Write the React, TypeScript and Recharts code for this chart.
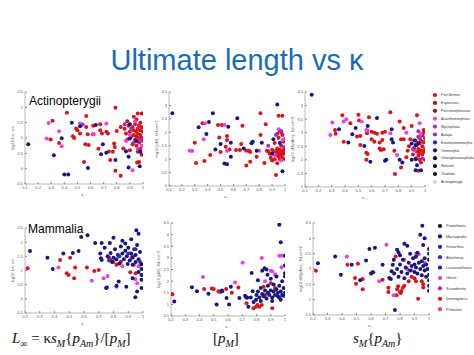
import { ScatterChart, Scatter, XAxis, YAxis, Label } from 'recharts';

// Actinopterygii: log10 L_inf (cm) vs kappa
const fishLenRed = [
  [0.296, 0.95], [0.31, 1.56], [0.36, 0.84], [0.42, 1.82], [0.465, 1.06], [0.475, 1.0], [0.49, 1.31], [0.5, 1.25],
  [0.52, 1.15], [0.567, 1.72], [0.567, 1.36], [0.578, 1.12], [0.618, 1.12], [0.56, 0.8], [0.585, 0.77], [0.55, 0.22],
  [0.62, 1.4], [0.674, 1.45], [0.674, 1.25], [0.72, 1.2], [0.687, 1.15], [0.733, 1.15], [0.66, 0.65], [0.74, 0.56],
  [0.75, 0.28], [0.79, 1.99], [0.785, 0.71], [0.78, 0.82], [0.77, 0.55], [0.79, -0.07], [0.83, -0.23], [0.8, 1.23],
  [0.83, 1.36], [0.93, 1.69], [0.96, 1.8], [0.99, 1.8], [0.955, 0.2], [0.97, 0.22], [0.85, 0.66], [0.86, 1.3],
  [0.87, 1.15], [0.88, 0.95], [0.89, 1.4], [0.9, 1.2], [0.91, 1.05], [0.92, 1.35], [0.92, 0.8], [0.93, 1.25],
  [0.93, 1.1], [0.94, 0.95], [0.94, 1.45], [0.95, 1.2], [0.95, 1.05], [0.95, 0.75], [0.96, 1.3], [0.96, 1.15],
  [0.96, 0.55], [0.97, 1.4], [0.97, 1.0], [0.97, 0.85], [0.98, 1.25], [0.98, 1.1], [0.98, 0.65], [0.99, 1.35],
  [0.99, 1.0], [0.99, 0.45], [1.0, 1.2], [1.0, 0.9], [0.9, 0.6], [0.88, 1.55], [0.95, 1.6], [0.98, 1.5],
];
const fishLenMagenta = [
  [0.266, 0.98], [0.28, 1.49], [0.36, 1.22], [0.38, 0.73], [0.52, 1.47], [0.625, 1.12], [0.72, 1.47], [0.92, -0.05],
  [0.9, 1.1], [0.96, 0.65], [0.94, 1.55], [0.99, 0.75], [0.87, 0.9],
];
const fishLenPurple = [[0.54, 1.44], [0.86, 1.45], [0.93, 0.85], [0.97, 0.6], [0.98, 0.95], [0.91, 1.3]];
const fishLenNavy = [
  [0.125, 0.8], [0.32, 0.44], [0.38, 0.99], [0.4, -0.19], [0.43, -0.19], [0.457, 1.5], [0.52, 1.38], [0.58, 0.02],
  [0.64, 1.42], [0.694, 0.8], [0.68, 0.47], [0.72, 0.52], [0.79, 0.28], [0.87, 0.57], [0.89, 0.04], [0.89, 0.39],
  [0.975, 0.08], [0.9, 0.98], [0.9, 1.45], [0.95, 0.9], [0.98, 0.55],
];

// Actinopterygii: log10 [p_M] vs kappa
const fishPmRed = [
  [0.3, 1.61], [0.31, 0.86], [0.36, 2.34], [0.375, 0.93], [0.42, 1.15], [0.48, 2.27], [0.51, 2.27], [0.49, 1.81],
  [0.5, 1.27], [0.54, 1.46], [0.55, 1.86], [0.55, 1.71], [0.57, 1.36], [0.62, 1.34], [0.65, 1.34], [0.66, 1.56],
  [0.67, 2.24], [0.7, 1.31], [0.72, 1.31], [0.73, 1.27], [0.7, 0.76], [0.73, 0.9], [0.78, 1.09], [0.81, 2.71],
  [0.81, 1.9], [0.85, 2.3], [0.84, 0.86], [0.86, 1.31], [0.87, 1.28], [0.95, 2.62], [0.98, 2.62], [0.93, 0.41],
  [0.88, 1.2], [0.89, 1.05], [0.9, 0.95], [0.9, 1.35], [0.91, 1.25], [0.92, 1.0], [0.92, 1.6], [0.93, 1.3],
  [0.93, 1.15], [0.94, 0.85], [0.94, 1.4], [0.95, 1.25], [0.95, 1.1], [0.95, 1.8], [0.96, 1.35], [0.96, 1.2],
  [0.96, 1.0], [0.96, 2.05], [0.97, 1.3], [0.97, 1.15], [0.97, 1.5], [0.98, 1.25], [0.98, 1.05], [0.98, 1.9],
  [0.99, 1.35], [0.99, 1.2], [0.99, 1.65], [1.0, 1.3], [1.0, 1.0], [0.97, 2.0], [0.94, 1.95],
];
const fishPmMagenta = [
  [0.26, 1.31], [0.28, 1.3], [0.38, 2.34], [0.37, 1.74], [0.53, 2.27], [0.55, 1.31], [0.8, 1.31], [0.98, 1.71],
  [1.0, 1.76], [0.95, 2.11], [0.92, 1.15], [0.97, 0.95],
];
const fishPmPurple = [[0.87, 1.5], [0.93, 1.9], [0.97, 2.05], [0.99, 1.45]];
const fishPmNavy = [
  [0.126, 2.71], [0.33, 2.19], [0.39, 1.94], [0.41, 2.38], [0.44, 2.71], [0.46, 1.36], [0.5, 1.56], [0.53, 0.84],
  [0.55, 0.81], [0.56, 2.21], [0.58, 1.09], [0.58, 1.61], [0.63, 2.52], [0.68, 1.4], [0.74, 1.59], [0.75, 1.65],
  [0.78, 1.31], [0.82, 1.61], [0.94, 3.03], [0.98, 0.55], [0.91, 1.74], [0.9, 1.2], [0.96, 1.6],
];

// Actinopterygii: log10 s_M{p_Am} vs kappa
const fishSpRed = [
  [0.325, 3.1], [0.33, 2.96], [0.38, 3.64], [0.39, 2.67], [0.44, 3.35], [0.5, 3.66], [0.505, 3.45], [0.49, 2.86],
  [0.515, 2.88], [0.515, 2.55], [0.565, 2.98], [0.56, 2.26], [0.57, 2.22], [0.56, 2.0], [0.58, 3.57], [0.6, 3.04],
  [0.62, 3.0], [0.64, 2.96], [0.6, 2.76], [0.62, 2.67], [0.66, 2.42], [0.67, 2.36], [0.69, 2.39], [0.68, 3.0],
  [0.7, 3.04], [0.66, 2.64], [0.68, 2.73], [0.74, 3.75], [0.77, 2.34], [0.775, 1.48], [0.81, 3.41], [0.82, 2.76],
  [0.84, 2.76], [0.82, 1.72], [0.84, 3.17], [0.87, 2.34], [0.89, 2.76], [0.9, 3.25], [0.94, 3.64], [0.95, 1.6],
  [0.99, 3.1], [0.99, 3.0], [0.88, 2.5], [0.91, 2.2], [0.92, 2.45], [0.93, 2.05], [0.93, 2.7], [0.94, 2.3],
  [0.94, 2.55], [0.95, 2.15], [0.95, 2.4], [0.95, 2.85], [0.96, 2.0], [0.96, 2.25], [0.96, 2.6], [0.97, 2.35],
  [0.97, 2.7], [0.97, 1.9], [0.98, 2.2], [0.98, 2.5], [0.98, 2.9], [0.99, 2.3], [0.99, 2.65], [1.0, 2.4],
  [1.0, 2.0], [1.0, 2.8], [0.86, 2.1],
];
const fishSpMagenta = [
  [0.29, 2.92], [0.305, 3.38], [0.39, 3.41], [0.41, 3.5], [0.525, 3.41], [0.56, 3.1], [0.57, 3.08], [0.74, 2.98],
  [0.79, 2.18], [0.86, 3.0], [0.96, 3.35], [0.92, 2.35], [0.97, 2.95],
];
const fishSpPurple = [[0.91, 2.4], [0.95, 3.05], [0.98, 2.05], [0.96, 2.8]];
const fishSpNavy = [
  [0.15, 4.4], [0.355, 3.13], [0.425, 2.64], [0.455, 2.94], [0.48, 3.17], [0.545, 2.51], [0.57, 3.25], [0.59, 1.93],
  [0.64, 3.54], [0.75, 3.13], [0.75, 2.76], [0.76, 2.64], [0.7, 1.97], [0.71, 2.0], [0.81, 2.0], [0.83, 1.9],
  [0.9, 2.0], [0.93, 2.02], [0.93, 1.62], [0.94, 1.8], [0.97, 1.62], [0.9, 2.6], [0.92, 2.72], [0.93, 2.55],
  [0.95, 2.62],
];

// Mammalia: log10 L_inf vs kappa
const mamLenNavy = [
  [0.234, 1.69], [0.352, 1.45], [0.388, 1.05], [0.46, 1.6], [0.524, 1.62], [0.563, 1.69], [0.581, 2.18], [0.624, 2.24],
  [0.676, 1.97], [0.71, 1.6], [0.72, 1.97], [0.715, 1.43], [0.72, 1.37], [0.75, 0.38], [0.755, 0.4], [0.775, 1.97],
  [0.8, 2.16], [0.82, 0.46], [0.835, 0.61], [0.887, 0.43], [0.896, 1.23], [0.93, 0.73], [0.948, 0.06], [0.96, 0.26],
  [0.955, 2.42], [0.97, 2.3], [0.99, 1.05], [0.99, 0.84], [0.99, 0.67], [0.99, 0.38], [0.76, 1.5], [0.78, 1.62],
  [0.79, 1.3], [0.8, 1.45], [0.81, 1.75], [0.82, 1.4], [0.83, 1.55], [0.84, 1.25], [0.85, 1.85], [0.86, 1.6],
  [0.87, 1.4], [0.88, 1.7], [0.88, 1.95], [0.89, 1.5], [0.9, 1.8], [0.91, 1.35], [0.92, 1.6], [0.92, 2.1],
  [0.93, 1.45], [0.94, 1.75], [0.95, 1.3], [0.95, 1.55], [0.96, 1.9], [0.97, 1.4], [0.98, 1.65], [0.93, 1.2],
  [0.86, 2.05], [0.74, 1.8], [0.97, 0.95],
];
const mamLenBlue = [[0.77, 1.35], [0.84, 1.5], [0.9, 1.6], [0.95, 1.75], [0.98, 1.3]];
const mamLenRed = [
  [0.218, 1.08], [0.438, 1.37], [0.483, 0.9], [0.495, 0.84], [0.506, 1.45], [0.533, 0.73], [0.54, 1.11], [0.62, 1.11],
  [0.67, 0.98], [0.7, 1.02], [0.77, 1.46], [0.78, 1.37], [0.85, 1.31], [0.914, 0.94], [0.8, 1.3], [0.82, 1.2],
  [0.93, 1.5], [0.95, 0.9],
];
const mamLenMagenta = [
  [0.427, 1.11], [0.653, 0.64], [0.733, 0.73], [0.76, 0.81], [0.82, 0.43], [0.948, 0.69], [0.92, 1.45], [0.94, 1.2],
  [0.97, 1.15], [0.96, 0.55], [0.86, 1.15],
];
const mamLenBlack = [[0.99, 1.22]];

// Mammalia: log10 [p_M] vs kappa
const mamPmNavy = [
  [0.223, 1.12], [0.347, 1.74], [0.382, 1.56], [0.463, 1.46], [0.52, 1.0], [0.557, 1.6], [0.56, 1.56], [0.59, 1.27],
  [0.608, 1.0], [0.62, 1.76], [0.68, 1.27], [0.72, 1.37], [0.727, 1.31], [0.735, 1.28], [0.743, 0.9], [0.766, 2.35],
  [0.773, 1.56], [0.797, 1.2], [0.81, 2.04], [0.84, 2.45], [0.857, 2.55], [0.87, 2.5], [0.877, 2.27], [0.96, 4.43],
  [0.97, 3.67], [1.0, 3.09], [1.0, 2.67], [0.99, 1.37], [0.8, 1.4], [0.81, 1.55], [0.82, 1.3], [0.83, 1.7],
  [0.84, 1.45], [0.85, 1.35], [0.86, 1.6], [0.87, 1.25], [0.88, 1.5], [0.88, 1.8], [0.89, 1.4], [0.9, 1.6],
  [0.9, 2.1], [0.91, 1.3], [0.92, 1.55], [0.92, 1.85], [0.93, 1.4], [0.94, 1.65], [0.94, 2.2], [0.95, 1.35],
  [0.95, 1.5], [0.96, 1.8], [0.96, 1.3], [0.97, 1.55], [0.98, 1.4], [0.98, 2.0], [0.99, 1.7], [1.0, 1.5],
  [1.0, 2.2], [0.78, 1.1], [0.76, 1.3], [0.83, 1.15], [0.91, 1.15], [0.97, 1.2],
];
const mamPmRed = [
  [0.21, 1.44], [0.433, 1.66], [0.487, 1.68], [0.5, 1.66], [0.533, 1.56], [0.545, 1.53], [0.587, 1.66], [0.627, 1.5],
  [0.673, 1.73], [0.73, 1.05], [0.778, 0.83], [0.797, 0.9], [0.806, 0.97], [0.82, 0.9], [0.837, 0.97], [0.85, 1.76],
  [0.9, 1.91], [0.91, 0.83], [0.86, 1.4], [0.93, 1.7],
];
const mamPmMagenta = [
  [0.424, 2.18], [0.65, 1.94], [0.703, 2.79], [0.837, 3.0], [0.86, 2.0], [0.9, 2.45], [0.91, 2.42], [0.96, 3.09],
  [0.98, 3.09], [0.976, 2.6], [0.93, 2.3],
];
const mamPmBlack = [[1.0, 2.34]];

// Mammalia: log10 s_M{p_Am} vs kappa
const mamSpNavy = [
  [0.234, 3.19], [0.353, 3.41], [0.392, 2.81], [0.467, 3.14], [0.525, 2.63], [0.566, 3.28], [0.589, 3.65], [0.6, 2.85],
  [0.61, 2.89], [0.627, 3.69], [0.68, 3.14], [0.726, 2.71], [0.737, 2.67], [0.742, 2.93], [0.75, 3.14], [0.757, 3.3],
  [0.765, 1.66], [0.78, 3.63], [0.79, 3.54], [0.83, 3.82], [0.85, 3.76], [0.91, 3.4], [0.92, 3.53], [0.954, 4.41],
  [0.94, 4.12], [0.97, 4.0], [0.96, 3.78], [1.0, 3.65], [1.0, 3.5], [1.0, 2.81], [1.0, 2.63], [1.0, 2.45],
  [1.0, 2.29], [0.76, 2.85], [0.78, 3.0], [0.79, 2.75], [0.8, 3.15], [0.81, 2.9], [0.82, 3.3], [0.83, 2.7],
  [0.84, 3.05], [0.85, 2.85], [0.86, 3.2], [0.87, 2.95], [0.88, 3.1], [0.89, 3.35], [0.9, 2.9], [0.9, 3.15],
  [0.91, 3.05], [0.92, 2.85], [0.93, 3.2], [0.94, 3.0], [0.95, 3.25], [0.95, 2.8], [0.96, 3.1], [0.97, 2.95],
  [0.97, 3.35], [0.98, 3.15], [0.99, 3.0], [0.8, 3.45], [0.87, 3.5], [0.98, 2.75],
];
const mamSpRed = [
  [0.22, 2.94], [0.438, 3.14], [0.49, 2.71], [0.497, 2.52], [0.51, 3.17], [0.543, 2.67], [0.543, 2.34], [0.616, 2.89],
  [0.68, 2.65], [0.72, 2.39], [0.72, 2.25], [0.776, 2.14], [0.787, 2.44], [0.78, 2.34], [0.8, 2.25], [0.805, 2.22],
  [0.81, 2.28], [0.82, 2.39], [0.83, 2.45], [0.77, 3.41], [0.925, 2.03], [0.91, 2.6], [0.9, 2.7], [0.95, 2.6],
  [0.96, 2.5], [0.96, 2.4], [0.86, 2.6], [0.88, 2.75],
];
const mamSpMagenta = [
  [0.433, 3.41], [0.657, 2.6], [0.707, 3.79], [0.757, 2.14], [0.83, 3.3], [0.85, 2.99], [0.91, 3.49], [0.93, 3.48],
  [0.88, 2.95], [0.97, 3.2],
];
const mamSpBlack = [[1.0, 3.3]];

const fishKappaTicks = [0.1, 0.2, 0.3, 0.4, 0.5, 0.6, 0.7, 0.8, 0.9, 1];
const mamKappaTicks = [0.2, 0.3, 0.4, 0.5, 0.6, 0.7, 0.8, 0.9, 1];

const fishLegendNames = [
  'Perciformes', 'Eupercaria', 'Percomorphaceae', 'Acanthomorphata', 'Myctophata', 'Aulopa',
  'Euteleosteomorpha', 'Otomorpha', 'Osteoglossocephalai', 'Holostei', 'Cladistia', 'Actinopterygii',
];
const fishLegendColors = [
  '#e3121b', '#c81018', '#a00d12', '#ee44ee', '#b626c8', '#8c2fd0',
  '#1b23d6', '#14147e', '#10103a', '#111111', '#111111', '#d9d9d9',
];
const mamLegendNames = [
  'Prototheria', 'Marsupialia', 'Xenarthra', 'Afrotheria', 'Laurasiatheria',
  'Glires', 'Scandentia', 'Dermoptera', 'Primates',
];
const mamLegendColors = [
  '#111111', '#12126e', '#2424b8', '#3434c4', '#1e1e98',
  '#d040d8', '#d418c8', '#d81818', '#e05050',
];

const C = {
  red: '#d8141c',
  magenta: '#e640e6',
  purple: '#a52ad0',
  navy: '#17177f',
  blue: '#2e2ec4',
  black: '#111111',
};

type Series = { color: string; points: number[][] };

type PanelProps = {
  x0: number;
  y0: number;
  x1: number;
  y1: number;
  xDomain: [number, number];
  yDomain: [number, number];
  xTicks: number[];
  yTicks: number[];
  yLabel: string;
  series: Series[];
};

const PAD_L = 22;
const PAD_T = 4;
const PAD_R = 4;
const PAD_B = 14;
const FRAME = '#b8b8b8';
const tickStyle = { fontSize: 4, fill: '#555' };

function Panel({ x0, y0, x1, y1, xDomain, yDomain, xTicks, yTicks, yLabel, series }: PanelProps) {
  const width = x1 - x0 + PAD_L + PAD_R;
  const height = y1 - y0 + PAD_T + PAD_B;

  return (
    <div style={{ position: 'absolute', left: x0 - PAD_L, top: y0 - PAD_T }}>
      <ScatterChart width={width} height={height} margin={{ top: PAD_T, right: PAD_R, left: 0, bottom: 0 }}>
        <XAxis
          dataKey="x"
          type="number"
          domain={xDomain}
          ticks={xTicks}
          allowDataOverflow
          height={PAD_B}
          tickSize={-2}
          tickMargin={4}
          tick={tickStyle}
          axisLine={{ stroke: FRAME }}
          tickLine={{ stroke: '#888' }}
        >
          <Label value="κ, -" position="insideBottom" offset={2} style={{ fontSize: 4, fill: '#555' }} />
        </XAxis>
        <XAxis
          xAxisId="top"
          orientation="top"
          type="number"
          domain={xDomain}
          ticks={xTicks}
          allowDataOverflow
          height={0}
          tickSize={-2}
          tick={false}
          axisLine={{ stroke: '#dcdcdc' }}
          tickLine={{ stroke: '#999' }}
        />
        <YAxis
          dataKey="y"
          type="number"
          domain={yDomain}
          ticks={yTicks}
          allowDataOverflow
          width={PAD_L}
          tickSize={-2}
          tickMargin={4}
          tick={tickStyle}
          axisLine={{ stroke: FRAME }}
          tickLine={{ stroke: '#888' }}
        >
          <Label value={yLabel} angle={-90} position="center" dx={-1} style={{ fontSize: 4, fill: '#555' }} />
        </YAxis>
        <YAxis
          yAxisId="right"
          orientation="right"
          type="number"
          domain={yDomain}
          ticks={yTicks}
          allowDataOverflow
          width={0}
          tickSize={-2}
          tick={false}
          axisLine={{ stroke: '#dcdcdc' }}
          tickLine={{ stroke: '#999' }}
        />
        {series.map((s, i) => (
          <Scatter
            key={i}
            data={s.points.map(([x, y]) => ({ x, y }))}
            isAnimationActive={false}
            shape={(p: any) => <circle cx={p.cx} cy={p.cy} r={2} fill={s.color} />}
          />
        ))}
      </ScatterChart>
    </div>
  );
}

function LegendBox({ left, top, step, names, colors, fontSize }: {
  left: number; top: number; step: number; names: string[]; colors: string[]; fontSize: number;
}) {
  return (
    <svg style={{ position: 'absolute', left, top }} width={474 - left} height={step * names.length + 4}>
      {names.map((n, i) => (
        <g key={n}>
          <circle cx={3} cy={3 + i * step} r={2.1} fill={colors[i]} />
          <text x={9} y={3 + i * step + fontSize * 0.35} fontSize={fontSize} fill="#333" fontFamily="Liberation Sans, Arial, sans-serif">
            {n}
          </text>
        </g>
      ))}
    </svg>
  );
}

const mathStyle: React.CSSProperties = {
  position: 'absolute',
  top: 330,
  fontFamily: '"Liberation Serif", "DejaVu Serif", serif',
  fontSize: 15,
  whiteSpace: 'nowrap',
  color: '#111',
};

export default function App() {
  return (
    <div
      style={{
        position: 'absolute',
        left: 0,
        top: 0,
        width: 474,
        height: 355,
        background: '#fff',
        overflow: 'hidden',
        fontFamily: '"Liberation Sans", Arial, sans-serif',
      }}
    >
      <div style={{ position: 'absolute', left: 0, top: 44, width: 474, textAlign: 'center', fontSize: 29, color: '#1c6cb5' }}>
        Ultimate length vs κ
      </div>

      <Panel
        x0={25} y0={92} x1={143} y1={184}
        xDomain={[0.1, 1]} yDomain={[-0.5, 2.5]}
        xTicks={fishKappaTicks} yTicks={[-0.5, 0, 0.5, 1, 1.5, 2, 2.5]}
        yLabel="log10 L∞, cm"
        series={[
          { color: C.red, points: fishLenRed },
          { color: C.magenta, points: fishLenMagenta },
          { color: C.purple, points: fishLenPurple },
          { color: C.navy, points: fishLenNavy },
        ]}
      />
      <Panel
        x0={169} y0={92} x1={285} y1={186}
        xDomain={[0.1, 1]} yDomain={[0, 3.5]}
        xTicks={fishKappaTicks} yTicks={[0, 0.5, 1, 1.5, 2, 2.5, 3, 3.5]}
        yLabel="log10 [pM], J/d.cm^3"
        series={[
          { color: C.red, points: fishPmRed },
          { color: C.magenta, points: fishPmMagenta },
          { color: C.purple, points: fishPmPurple },
          { color: C.navy, points: fishPmNavy },
        ]}
      />
      <Panel
        x0={305} y0={92} x1={425} y1={187}
        xDomain={[0.1, 1]} yDomain={[1, 4.5]}
        xTicks={fishKappaTicks} yTicks={[1, 1.5, 2, 2.5, 3, 3.5, 4, 4.5]}
        yLabel="log10 sM{pAm}, J/d.cm^2"
        series={[
          { color: C.red, points: fishSpRed },
          { color: C.magenta, points: fishSpMagenta },
          { color: C.purple, points: fishSpPurple },
          { color: C.navy, points: fishSpNavy },
        ]}
      />

      <Panel
        x0={25} y0={228} x1={143} y1={313}
        xDomain={[0.2, 1]} yDomain={[-0.5, 2.5]}
        xTicks={mamKappaTicks} yTicks={[-0.5, 0, 0.5, 1, 1.5, 2, 2.5]}
        yLabel="log10 L∞, cm"
        series={[
          { color: C.red, points: mamLenRed },
          { color: C.magenta, points: mamLenMagenta },
          { color: C.navy, points: mamLenNavy },
          { color: C.blue, points: mamLenBlue },
          { color: C.black, points: mamLenBlack },
        ]}
      />
      <Panel
        x0={171} y0={223} x1={285} y1={316}
        xDomain={[0.2, 1]} yDomain={[0.5, 4.5]}
        xTicks={mamKappaTicks} yTicks={[0.5, 1, 1.5, 2, 2.5, 3, 3.5, 4, 4.5]}
        yLabel="log10 [pM], J/d.cm^3"
        series={[
          { color: C.red, points: mamPmRed },
          { color: C.magenta, points: mamPmMagenta },
          { color: C.navy, points: mamPmNavy },
          { color: C.black, points: mamPmBlack },
        ]}
      />
      <Panel
        x0={313} y0={223} x1={429} y1={315}
        xDomain={[0.2, 1]} yDomain={[1.5, 4.5]}
        xTicks={mamKappaTicks} yTicks={[1.5, 2, 2.5, 3, 3.5, 4, 4.5]}
        yLabel="log10 sM{pAm}, J/d.cm^2"
        series={[
          { color: C.red, points: mamSpRed },
          { color: C.magenta, points: mamSpMagenta },
          { color: C.navy, points: mamSpNavy },
          { color: C.black, points: mamSpBlack },
        ]}
      />

      <div style={{ position: 'absolute', left: 29, top: 94, fontSize: 12, color: '#000' }}>Actinopterygii</div>
      <div style={{ position: 'absolute', left: 28, top: 222, fontSize: 12, color: '#000' }}>Mammalia</div>

      <LegendBox left={432} top={92} step={7.9} names={fishLegendNames} colors={fishLegendColors} fontSize={3.6} />
      <LegendBox left={437} top={223} step={10.4} names={mamLegendNames} colors={mamLegendColors} fontSize={4} />

      <div style={{ ...mathStyle, left: 12 }}>
        <i>L</i><sub style={{ fontSize: 10 }}>∞</sub> = κ<i>s</i><sub style={{ fontSize: 10 }}><i>M</i></sub>
        {'{'}<i>p</i><sub style={{ fontSize: 10 }}><i>Am</i></sub>{'}'}/[<i>p</i><sub style={{ fontSize: 10 }}><i>M</i></sub>]
      </div>
      <div style={{ ...mathStyle, left: 213 }}>
        [<i>p</i><sub style={{ fontSize: 10 }}><i>M</i></sub>]
      </div>
      <div style={{ ...mathStyle, left: 353 }}>
        <i>s</i><sub style={{ fontSize: 10 }}><i>M</i></sub>{'{'}<i>p</i><sub style={{ fontSize: 10 }}><i>Am</i></sub>{'}'}
      </div>
    </div>
  );
}
